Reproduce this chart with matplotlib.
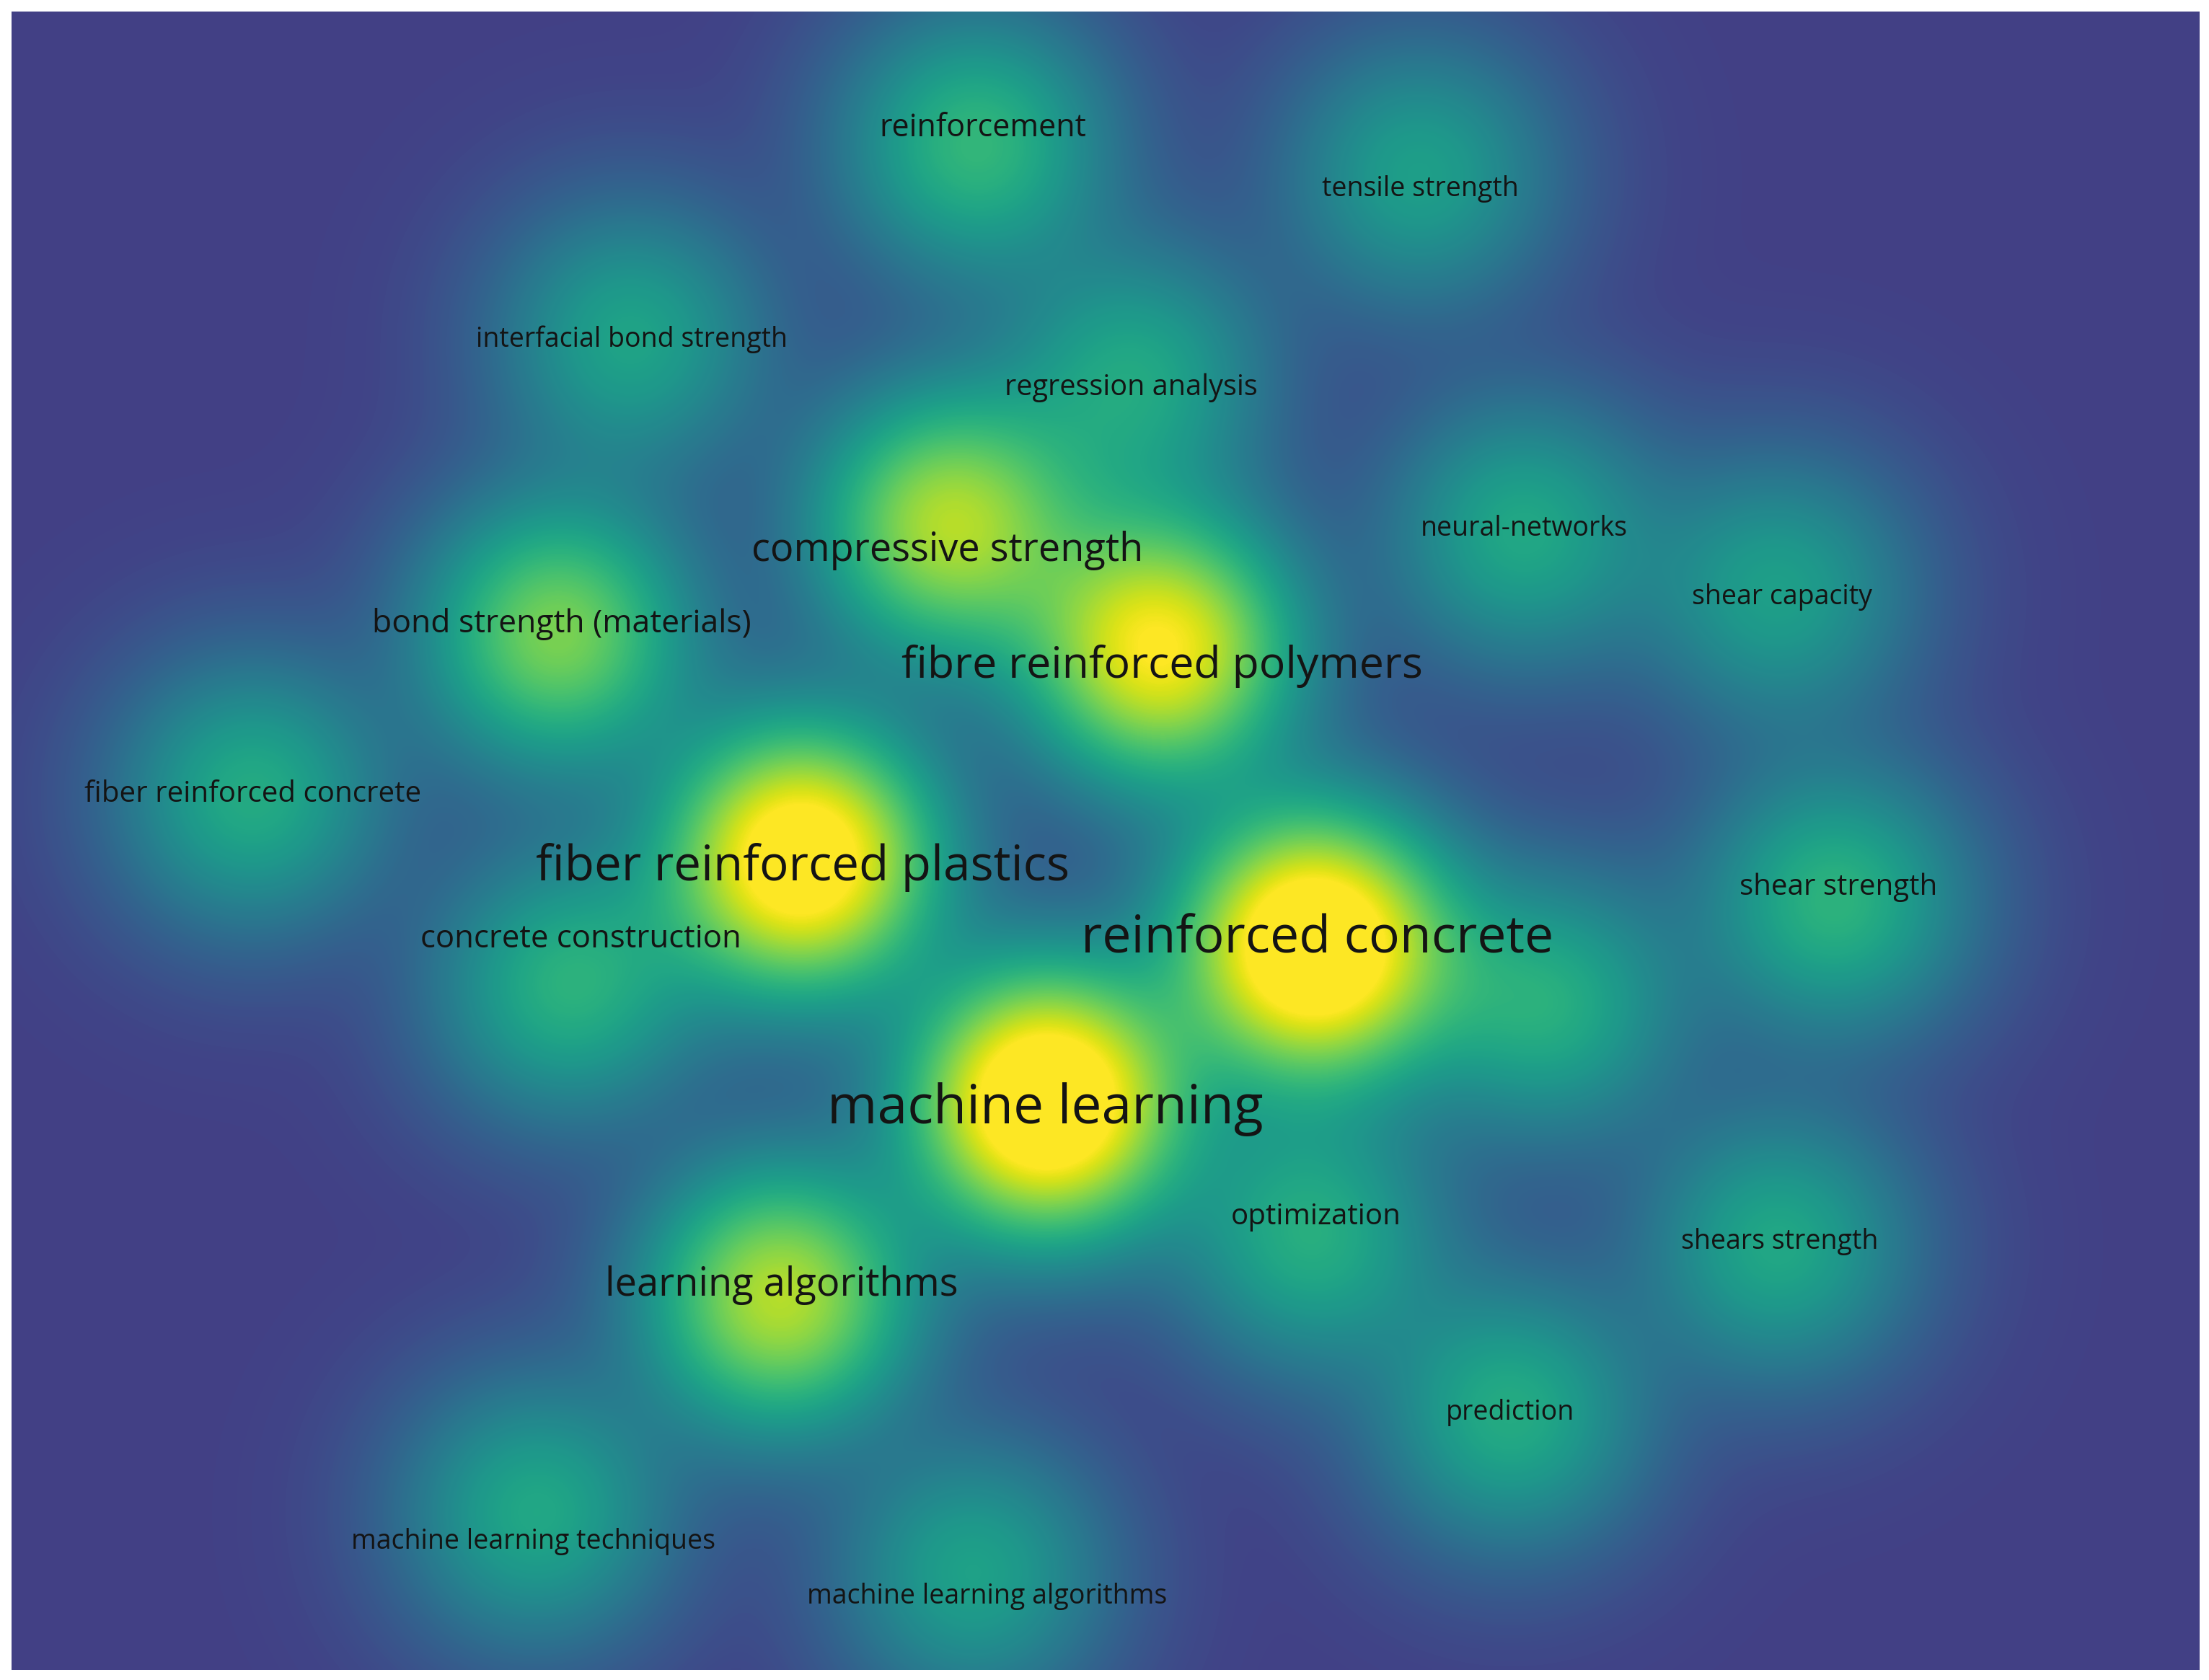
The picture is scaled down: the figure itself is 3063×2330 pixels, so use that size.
import numpy as np
import matplotlib
matplotlib.use("Agg")
import matplotlib.pyplot as plt
from matplotlib.colors import ListedColormap

# keyword map (positions, in picture units)
labels = ["reinforcement", "tensile strength", "interfacial bond strength",
          "regression analysis", "compressive strength", "neural-networks",
          "shear capacity", "bond strength (materials)", "fibre reinforced polymers",
          "fiber reinforced concrete", "fiber reinforced plastics", "shear strength",
          "reinforced concrete", "concrete construction", "machine learning",
          "optimization", "shears strength", "learning algorithms", "prediction",
          "machine learning techniques", "machine learning algorithms", ""]
# density peaks
x = [692, 1007, 447, 805, 673, 1080, 1262, 395, 823,
     178, 568, 1302, 932, 403, 742,
     930, 1262, 553, 1072, 380, 690, 1098]
y = [102, 123, 240, 268, 372, 378, 420, 450, 460,
     565, 610, 640, 672, 700, 783,
     878, 885, 922, 1005, 1075, 1118, 714]
# peak level of each item on the colour scale (0 = background, 1 = yellow)
level = [0.58, 0.46, 0.48, 0.5, 0.85, 0.5, 0.46, 0.75, 1.0,
         0.52, 1.14, 0.56, 1.22, 0.55, 1.22,
         0.53, 0.5, 0.86, 0.52, 0.5, 0.47, 0.53]
# label anchors
lab_x = [697, 1007, 448, 802, 672, 1081, 1264, 398, 824,
         179, 569, 1304, 934, 412, 741,
         933, 1262, 554, 1071, 378, 700, 0]
lab_y = [91, 134, 241, 275, 391, 375, 424, 443, 473,
         564, 616, 630, 667, 667, 788,
         864, 882, 913, 1003, 1095, 1134, 0]
fontsize = [31, 27, 27, 28.5, 39, 27, 27, 32, 43.8,
            29, 48.5, 29, 51.5, 31.5, 54,
            29, 27, 39, 27, 27, 27, 0]

xs = np.array(x, float)
ys = np.array(y, float)
p = 0.65
ws = np.array(level) ** (1 / p)

# kernel density, coloured on a power scale
sigma = 74.0 * np.sqrt(p)
gx = np.linspace(8, 1560, 776)
gy = np.linspace(8, 1186, 590)
GX, GY = np.meshgrid(gx, gy)
dens = np.zeros_like(GX)
for xi, yi, wi in zip(xs, ys, ws):
    dens += wi * np.exp(-((GX - xi) ** 2 + (GY - yi) ** 2) / (2 * sigma ** 2))
col = np.clip(dens ** p, 0, 1)

cmap = ListedColormap(plt.cm.viridis(np.linspace(0.19, 1.0, 256)))

fig = plt.figure(figsize=(30.63, 23.30), dpi=100)
ax = fig.add_axes([16 / 3063, 1 - 2316 / 2330, 3034 / 3063, 2300 / 2330])
ax.imshow(col, cmap=cmap, vmin=0, vmax=1, extent=[8, 1560, 1186, 8],
          interpolation="bilinear", aspect="auto")
for lab, lx, ly, fs in zip(labels, lab_x, lab_y, fontsize):
    if lab:
        ax.text(lx, ly, lab, fontsize=fs, family="Open Sans", color="#141414",
                ha="center", va="center")
ax.set_xlim(8, 1560)
ax.set_ylim(1186, 8)
ax.axis("off")
fig.savefig("out.png", dpi=100)
